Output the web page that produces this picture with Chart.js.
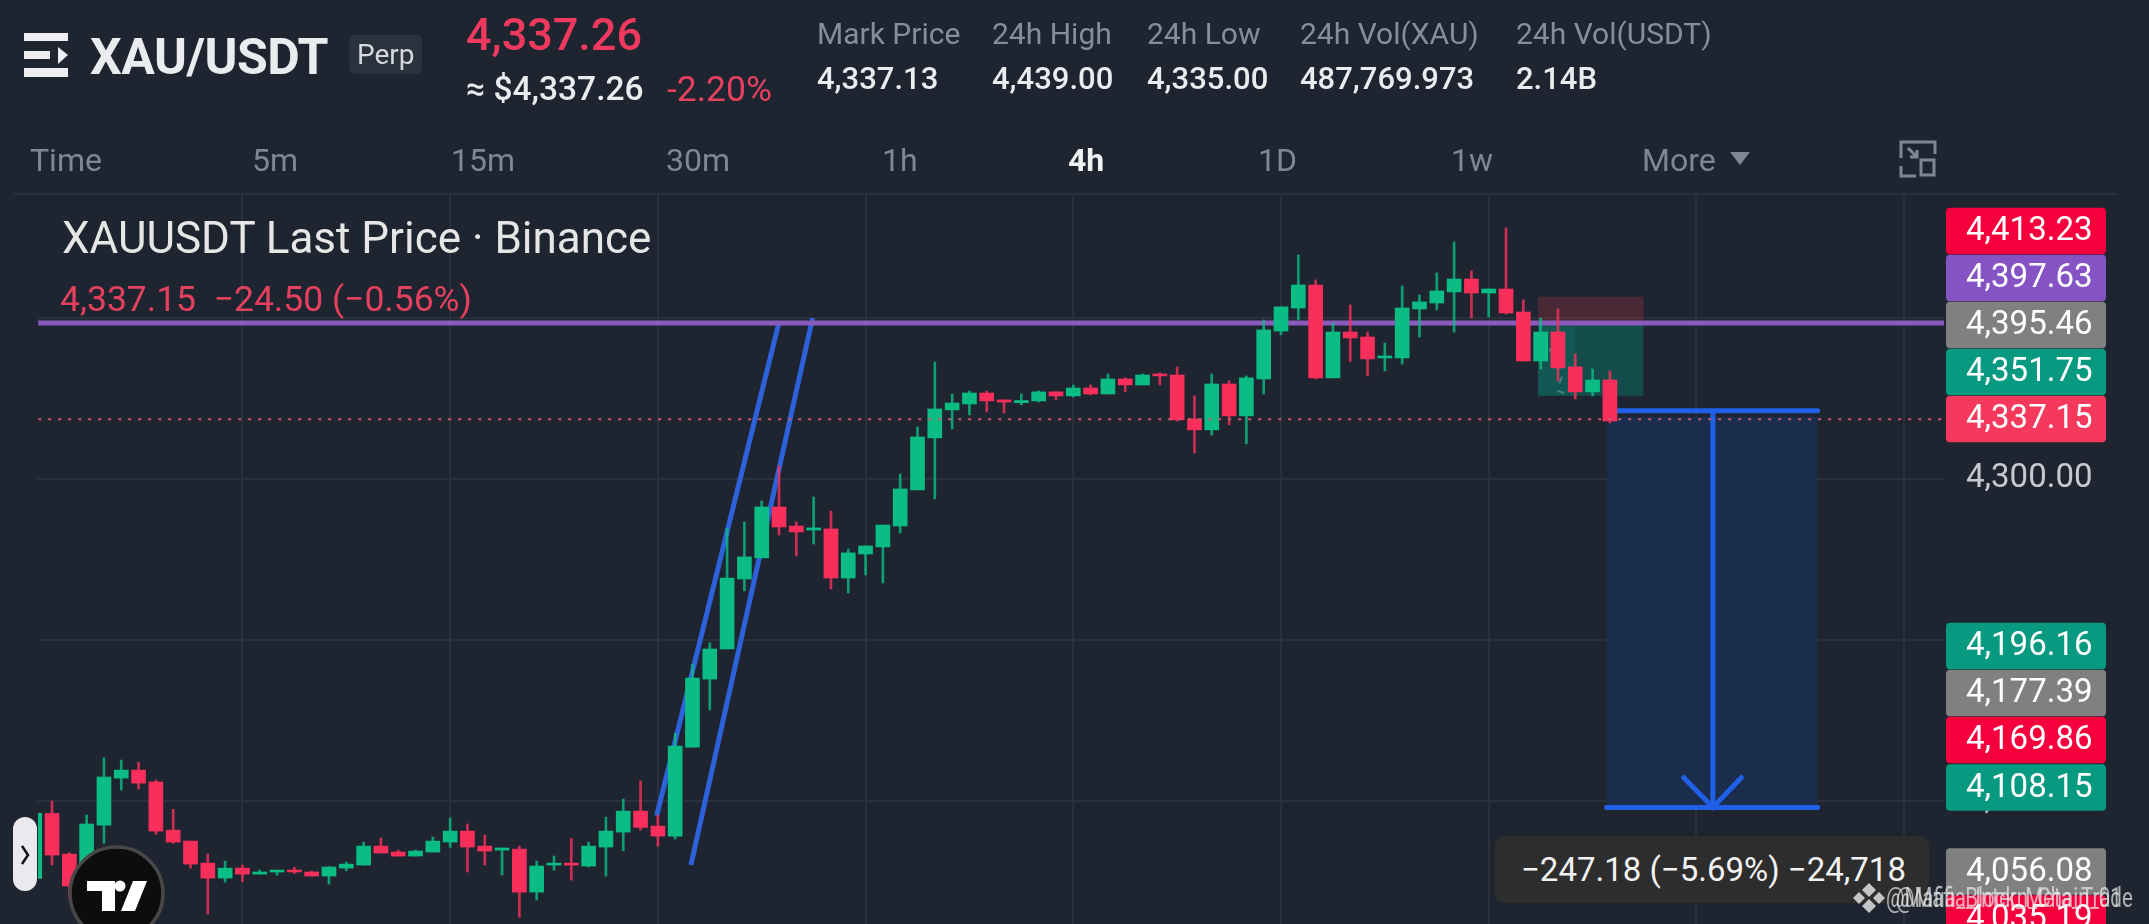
<!DOCTYPE html>
<html>
<head>
<meta charset="utf-8">
<title>XAU/USDT</title>
<script src="https://cdn.jsdelivr.net/npm/chart.js@4/dist/chart.umd.min.js"></script>
<style>
html, body { margin: 0; padding: 0; background: #1e2530; overflow: hidden; }
#page { position: relative; width: 2149px; height: 924px; font-family: Roboto, sans-serif; color: #eaecef; overflow: hidden; }
#page canvas { position: absolute; left: 0; top: 0; }
.t { position: absolute; line-height: 1; white-space: nowrap; z-index: 2; }
.lbl { font-size: 30px; color: #868e99; top: 19px; }
.val { font-size: 31px; font-weight: 500; top: 63px; }
.tab { font-size: 32px; color: #7f8792; top: 144px; }
#sep { position: absolute; left: 14px; top: 193px; width: 2102px; height: 2px; background: #29313b; }
#perp { position: absolute; left: 349px; top: 35px; width: 73px; height: 39px; background: #29323d; border-radius: 5px; }
#pill { position: absolute; left: 13px; top: 817px; width: 24px; height: 74px; background: #e9e9ee; border-radius: 12px; z-index: 2; }
#measure { position: absolute; left: 1495px; top: 836px; width: 434px; height: 67px; background: #2d2d2d; border-radius: 9px; z-index: 2; }
svg { position: absolute; z-index: 3; }
.wm { font-size: 27px; color: rgba(235, 235, 235, 0.7); top: 885px; z-index: 4; transform: scaleX(0.76); transform-origin: left top; }
</style>
</head>
<body>
<div id="page">
  <canvas id="chart" width="2149" height="924"></canvas>

  <svg style="left:24px;top:33px" width="44" height="44" viewBox="0 0 44 44">
    <rect x="0" y="0" width="44" height="8" fill="#eeeef2"/>
    <rect x="0" y="18" width="26" height="8" fill="#eeeef2"/>
    <polygon points="34,14 44,22 34,31" fill="#eeeef2"/>
    <rect x="0" y="35" width="44" height="9" fill="#eeeef2"/>
  </svg>
  <div class="t" style="left:90px;top:32px;font-size:50px;font-weight:700;letter-spacing:-0.5px">XAU/USDT</div>
  <div id="perp"></div>
  <div class="t" style="left:357px;top:41px;font-size:28px;color:#d5d8dc">Perp</div>
  <div class="t" style="left:466px;top:12px;font-size:45px;font-weight:500;color:#f0395f">4,337.26</div>
  <div class="t" style="left:466px;top:72px;font-size:33.5px;font-weight:500">≈ $4,337.26</div>
  <div class="t" style="left:667px;top:72px;font-size:35.5px;color:#e8405f">-2.20%</div>

  <div class="t lbl" style="left:817px">Mark Price</div>
  <div class="t lbl" style="left:992px">24h High</div>
  <div class="t lbl" style="left:1147px">24h Low</div>
  <div class="t lbl" style="left:1300px">24h Vol(XAU)</div>
  <div class="t lbl" style="left:1516px">24h Vol(USDT)</div>
  <div class="t val" style="left:817px">4,337.13</div>
  <div class="t val" style="left:992px">4,439.00</div>
  <div class="t val" style="left:1147px">4,335.00</div>
  <div class="t val" style="left:1300px">487,769.973</div>
  <div class="t val" style="left:1516px">2.14B</div>

  <div class="t tab" style="left:30px">Time</div>
  <div class="t tab" style="left:252px">5m</div>
  <div class="t tab" style="left:451px">15m</div>
  <div class="t tab" style="left:666px">30m</div>
  <div class="t tab" style="left:882px">1h</div>
  <div class="t tab" style="left:1068px;color:#f0f1f3;font-weight:700">4h</div>
  <div class="t tab" style="left:1258px">1D</div>
  <div class="t tab" style="left:1451px">1w</div>
  <div class="t tab" style="left:1642px">More</div>
  <svg style="left:1730px;top:152px" width="20" height="13"><polygon points="0,0 20,0 10,13" fill="#7f8792"/></svg>
  <svg style="left:1899px;top:140px" width="38" height="38" viewBox="0 0 38 38" fill="none" stroke="#7f8792" stroke-width="3">
    <path d="M2 18 V2 H36 V14 M2 26 V36 H17"/>
    <rect x="22" y="20" width="13" height="15"/>
    <path d="M9 8 L18 17 M18 10 V17 H11"/>
  </svg>
  <div id="sep"></div>

  <div class="t" style="left:62px;top:216px;font-size:44px;color:#e6e6e6">XAUUSDT Last Price · Binance</div>
  <div class="t" style="left:60px;top:282px;font-size:35.5px;color:#e5405e;white-space:pre">4,337.15  −24.50 (−0.56%)</div>

  <div id="pill"></div>
  <svg style="left:19px;top:844px" width="12" height="22"><path d="M3 2 L9 11 L3 20" fill="none" stroke="#111" stroke-width="2.5"/></svg>
  <svg style="left:68px;top:845px" width="97" height="79" viewBox="0 0 97 79">
    <circle cx="48.5" cy="48.5" r="46.5" fill="#0d0d0f" stroke="#484848" stroke-width="3.5"/>
    <path d="M19 36 H47 V66 H34 V46 H19 Z" fill="#fff"/>
    <circle cx="52" cy="41" r="5.5" fill="#fff"/>
    <path d="M65 36 H79 L67 66 H53 Z" fill="#fff"/>
  </svg>

  <div id="measure"></div>
  <div class="t" style="left:1521px;top:853px;font-size:33px;color:#f2f2f2">−247.18 (−5.69%) −24,718</div>

  <svg style="left:1852px;top:883px" width="34" height="30" viewBox="0 0 34 30" fill="rgba(235,235,235,0.8)">
    <polygon points="17,0 24,7 17,14 10,7"/>
    <polygon points="17,16 24,23 17,30 10,23"/>
    <polygon points="7,9 13,15 7,21 1,15"/>
    <polygon points="27,9 33,15 27,21 21,15"/>
  </svg>
  <div class="t wm" style="left:1886px">@Mafia_Block_Meta_Trade</div>
  <div class="t wm" style="left:1896px">@Mafia_Intern_Chain_01</div>
</div>

<script>
// 4h candles, one value per candle
var opens = [
    4051.9, 4092.3, 4067.0, 4047.2, 4085.0, 4114.2, 4119.2, 4111.8, 4081.9, 4075.1, 4061.4, 4052.1,
    4058.3, 4054.6, 4055.9, 4057.1, 4055.9, 4053.4, 4058.3, 4060.2, 4072.0, 4068.3, 4065.8, 4068.3,
    4074.5, 4081.3, 4072.0, 4069.5, 4070.1, 4043.4, 4060.2, 4061.4, 4059.6, 4071.4, 4080.7, 4093.7,
    4084.4, 4078.2, 4133.5, 4175.7, 4194.4, 4237.9, 4251.0, 4282.6, 4270.8, 4268.3, 4269.0, 4238.5,
    4253.4, 4257.8, 4270.8, 4293.2, 4325.5, 4342.9, 4346.6, 4353.4, 4349.1, 4347.4, 4348.5, 4354.1,
    4351.6, 4356.5, 4352.8, 4362.1, 4358.4, 4365.2, 4364.6, 4337.3, 4330.5, 4359.0, 4339.2, 4362.1,
    4391.9, 4406.2, 4420.5, 4362.8, 4391.3, 4388.2, 4375.2, 4375.2, 4405.6, 4409.3, 4416.2, 4424.2,
    4415.5, 4418.0, 4403.7, 4373.3, 4391.3, 4369.6, 4354.1, 4361.5
];
var highs = [
    4092.3, 4100.0, 4067.9, 4091.3, 4126.9, 4125.4, 4124.0, 4113.0, 4094.8, 4075.1, 4067.0, 4062.7,
    4060.2, 4057.1, 4057.1, 4058.8, 4056.5, 4059.2, 4062.1, 4074.5, 4077.0, 4069.5, 4069.5, 4077.6,
    4089.4, 4085.7, 4078.8, 4070.8, 4072.0, 4062.7, 4065.8, 4076.6, 4074.5, 4090.0, 4101.2, 4112.4,
    4091.3, 4142.0, 4185.0, 4198.3, 4269.4, 4273.3, 4286.4, 4308.1, 4273.3, 4288.8, 4280.1, 4256.5,
    4258.4, 4271.4, 4303.1, 4332.3, 4372.7, 4352.8, 4354.7, 4354.7, 4349.1, 4352.8, 4354.7, 4354.1,
    4358.4, 4358.4, 4365.2, 4362.8, 4365.2, 4365.9, 4369.6, 4351.6, 4365.2, 4360.9, 4364.0, 4398.8,
    4406.9, 4439.1, 4423.6, 4396.7, 4408.1, 4391.3, 4384.5, 4419.9, 4414.3, 4428.0, 4447.2, 4429.2,
    4418.0, 4455.9, 4411.2, 4400.0, 4405.6, 4377.7, 4368.3, 4367.1
];
var lows = [
    4051.9, 4060.2, 4040.1, 4044.7, 4073.7, 4106.8, 4107.4, 4079.3, 4073.7, 4058.3, 4029.8, 4049.6,
    4049.9, 4054.6, 4054.0, 4055.0, 4053.4, 4048.4, 4056.7, 4060.2, 4067.7, 4065.8, 4065.8, 4068.3,
    4071.2, 4055.9, 4060.2, 4054.0, 4027.7, 4038.5, 4057.1, 4050.9, 4059.0, 4053.4, 4069.1, 4081.9,
    4072.0, 4076.4, 4133.5, 4156.5, 4194.4, 4230.5, 4251.0, 4265.2, 4252.2, 4259.6, 4231.7, 4229.2,
    4240.4, 4235.4, 4266.5, 4293.2, 4287.6, 4331.1, 4339.8, 4341.6, 4341.0, 4346.0, 4347.8, 4349.1,
    4351.0, 4352.2, 4352.8, 4354.1, 4358.4, 4358.4, 4336.0, 4316.2, 4327.3, 4333.6, 4321.8, 4352.8,
    4389.5, 4398.8, 4362.1, 4362.8, 4373.1, 4364.0, 4367.1, 4371.4, 4388.2, 4405.0, 4391.3, 4400.0,
    4400.6, 4402.5, 4373.3, 4368.3, 4360.9, 4349.7, 4351.6, 4334.8
];
var closes = [
    4092.3, 4066.4, 4047.2, 4085.7, 4114.9, 4119.2, 4111.1, 4081.3, 4074.5, 4060.8, 4052.1, 4058.3,
    4054.6, 4055.9, 4057.1, 4055.9, 4053.4, 4059.0, 4060.8, 4072.0, 4067.7, 4065.8, 4068.9, 4075.1,
    4081.3, 4071.4, 4068.9, 4070.8, 4043.4, 4059.6, 4061.4, 4060.2, 4072.0, 4081.3, 4093.7, 4083.6,
    4078.2, 4134.1, 4176.4, 4194.4, 4238.5, 4251.6, 4282.6, 4270.2, 4267.1, 4269.6, 4238.5, 4254.1,
    4258.4, 4271.4, 4293.8, 4326.1, 4343.5, 4347.2, 4353.4, 4348.5, 4347.8, 4348.7, 4354.1, 4351.6,
    4356.5, 4352.8, 4362.1, 4358.4, 4364.6, 4364.0, 4336.7, 4330.5, 4359.0, 4339.2, 4362.8, 4392.6,
    4406.9, 4420.5, 4362.8, 4391.3, 4387.6, 4374.6, 4376.4, 4406.2, 4410.0, 4416.8, 4424.2, 4415.5,
    4418.0, 4403.1, 4373.3, 4391.3, 4369.0, 4354.1, 4361.5, 4336.0
];

// price tags on the right, stacked away from their anchor when they would overlap
var upperTags = [4337.15, 4351.75, 4395.46, 4397.63, 4413.23];
var upperColors = ['#f4395c', '#089981', '#808080', '#8653c4', '#f5003c'];
var lowerTags = [4196.16, 4177.39, 4169.86, 4108.15, 4056.08, 4035.19];
var lowerColors = ['#089981', '#808080', '#f5003c', '#089981', '#808080', '#f5003c'];

// drawings, x in candle numbers and y in price
var lastPrice = 4337.15;
var resistance = 4396.9;
var channelA = [{x: 35.93, y: 4090.7}, {x: 42.99, y: 4396.9}];
var channelB = [{x: 37.91, y: 4060.2}, {x: 44.94, y: 4400.0}];
var stopZone = [{x: 86.85, y: 4413.23}, {x: 92.95, y: 4413.23}];
var stopBase = 4395.46;
var targetZone = [{x: 86.85, y: 4395.46}, {x: 92.95, y: 4395.46}];
var targetBase = 4351.75;
var activeZone = [{x: 86.85, y: 4395.46}, {x: 89.0, y: 4395.46}];
var measureBox = [{x: 90.81, y: 4338.5}, {x: 103.0, y: 4338.5}];
var measureBase = 4096.0;
var measureTop = [{x: 91.4, y: 4342.4}, {x: 103.0, y: 4342.4}];
var measureBottom = [{x: 90.81, y: 4096.0}, {x: 103.0, y: 4096.0}];
var measureArrow = [{x: 96.95, y: 4342.4}, {x: 96.95, y: 4096.0}];
var arrowHead = [{x: 95.26, y: 4114.6}, {x: 96.95, y: 4096.0}, {x: 98.6, y: 4114.6}];
var fadedPath = [{x: 87.5, y: 4381}, {x: 88.3, y: 4365}, {x: 87.9, y: 4355}, {x: 88.6, y: 4352.5}];

var UP = '#0bbd84';
var DOWN = '#f92f5b';

function candleColor(i) {
    return closes[i] >= opens[i] ? UP : DOWN;
}

function lineSet(points, color, width, order, extra) {
    return Object.assign({
        type: 'line',
        data: points,
        borderColor: color,
        borderWidth: width,
        pointRadius: 0,
        fill: false,
        order: order
    }, extra || {});
}

function zoneSet(points, color, base, order) {
    return lineSet(points, 'transparent', 0, order, {fill: {value: base}, backgroundColor: color});
}

var priceTags = {
    id: 'priceTags',
    afterDraw: function (chart) {
        var ctx = chart.ctx;
        var scale = chart.scales.y;
        var h = 47;
        ctx.save();
        ctx.font = '33px Roboto';
        ctx.textBaseline = 'middle';
        function tag(value, color, y) {
            ctx.fillStyle = color;
            ctx.beginPath();
            ctx.roundRect(1946, y - h / 2, 160, h - 0.5, 4);
            ctx.fill();
            ctx.fillStyle = '#ffffff';
            ctx.fillText(value.toLocaleString('en-US', {minimumFractionDigits: 2}), 1966, y + 1);
        }
        var prev = Infinity;
        upperTags.forEach(function (value, i) {
            var y = Math.min(scale.getPixelForValue(value), prev - h);
            tag(value, upperColors[i], y);
            prev = y;
        });
        prev = -Infinity;
        lowerTags.forEach(function (value, i) {
            var y = Math.max(scale.getPixelForValue(value), prev + h);
            tag(value, lowerColors[i], y);
            prev = y;
        });
        ctx.restore();
    }
};

new Chart(document.getElementById('chart'), {
    data: {
        datasets: [
            {
                type: 'bar',
                data: opens.map(function (o, i) { return {x: i, y: [o, closes[i]]}; }),
                backgroundColor: opens.map(function (o, i) { return candleColor(i); }),
                barThickness: 14,
                grouped: false,
                order: 1
            },
            {
                type: 'bar',
                data: highs.map(function (h, i) { return {x: i, y: [lows[i], h]}; }),
                backgroundColor: highs.map(function (h, i) { return candleColor(i) + 'cc'; }),
                barThickness: 2,
                grouped: false,
                order: 2
            },
            lineSet([{x: 0.2, y: lastPrice}, {x: 110.3, y: lastPrice}], '#c9586f', 2, 0, {borderDash: [3, 7]}),
            lineSet([{x: 0.2, y: resistance}, {x: 110.3, y: resistance}], '#8a5abc', 5, 3),
            lineSet(fadedPath, 'rgba(127, 181, 173, 0.45)', 2, 3, {borderDash: [7, 9]}),
            lineSet(channelA, '#2e62da', 5, 4),
            lineSet(channelB, '#2e62da', 5, 4),
            lineSet(measureTop, '#1f60e6', 5, 3, {borderCapStyle: 'round'}),
            lineSet(measureBottom, '#1f60e6', 5, 3, {borderCapStyle: 'round'}),
            lineSet(measureArrow, '#1f60e6', 5, 3),
            lineSet(arrowHead, '#1f60e6', 5, 3, {borderCapStyle: 'round'}),
            zoneSet(measureBox, '#1a2d4c', measureBase, 5),
            zoneSet(stopZone, 'rgba(145, 50, 62, 0.38)', stopBase, 5),
            zoneSet(targetZone, 'rgba(8, 125, 110, 0.45)', targetBase, 5),
            zoneSet(activeZone, 'rgba(20, 160, 140, 0.18)', targetBase, 5)
        ]
    },
    options: {
        responsive: false,
        animation: false,
        devicePixelRatio: 1,
        layout: {padding: {left: 38, top: 194, right: 0, bottom: 0}},
        plugins: {legend: {display: false}, tooltip: {enabled: false}},
        scales: {
            x: {
                type: 'linear',
                offset: false,
                min: 0.19,
                max: 110.36,
                border: {display: false},
                grid: {color: '#2b313c', lineWidth: 2, drawTicks: false, offset: false},
                ticks: {display: false, stepSize: 12, includeBounds: false},
                afterFit: function (scale) {
                    scale.height = 0;
                    scale.paddingLeft = scale.paddingRight = 0;
                }
            },
            y: {
                position: 'right',
                min: 4023.6,
                max: 4477,
                border: {display: false},
                grid: {color: '#2b313c', lineWidth: 2, drawTicks: false},
                afterFit: function (scale) {
                    scale.width = 204;
                    scale.paddingTop = scale.paddingBottom = 0;
                },
                ticks: {
                    stepSize: 100,
                    includeBounds: false,
                    padding: 21,
                    color: '#c6cad0',
                    font: {family: 'Roboto', size: 33},
                    callback: function (value) {
                        return value.toLocaleString('en-US', {minimumFractionDigits: 2});
                    }
                }
            }
        }
    },
    plugins: [priceTags]
});
</script>
</body>
</html>
